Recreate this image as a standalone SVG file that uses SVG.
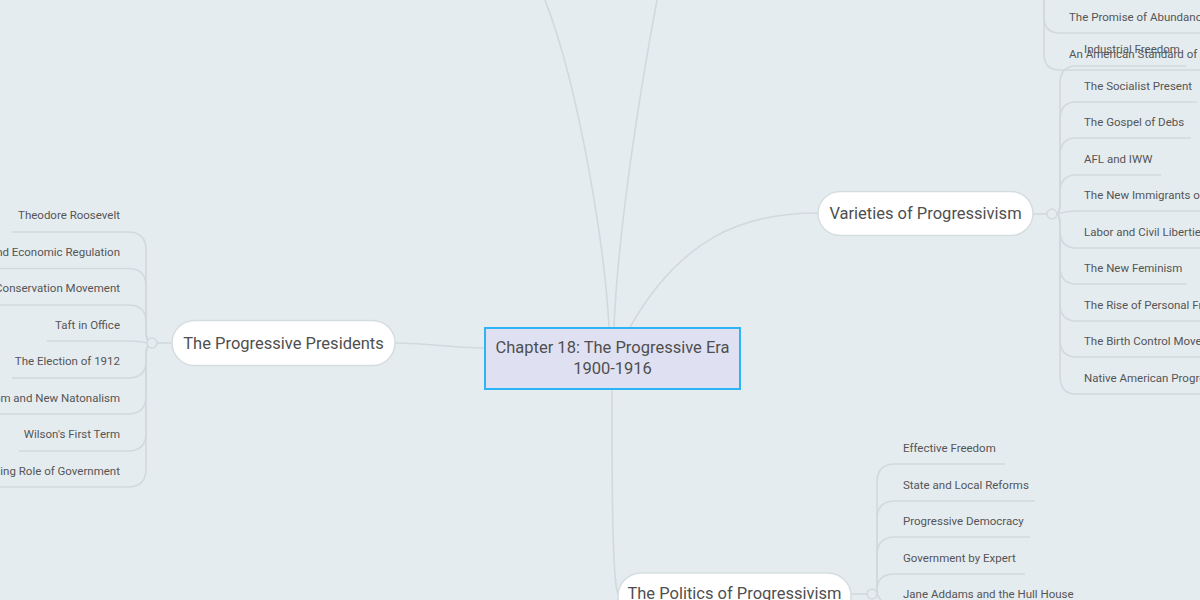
<svg xmlns="http://www.w3.org/2000/svg" width="1200" height="600" viewBox="0 0 1200 600">
<style>
.bg{fill:#e5ecf0}
.ln{fill:none;stroke:#d2d9dd;stroke-width:1.6}
.pill{fill:#ffffff;stroke:#d6dde1;stroke-width:1.5}
.dot{fill:#e5ecf0;stroke:#d2d9dd;stroke-width:1.5}
.t1{font-family:Roboto,"Liberation Sans",sans-serif;font-size:16.5px;fill:#4f4f4f}
.t2{font-family:Roboto,"Liberation Sans",sans-serif;font-size:11.5px;fill:#555555}
.root{fill:#dfe1f3;stroke:#2cb4f6;stroke-width:2}
</style>
<rect class="bg" x="0" y="0" width="1200" height="600"/>
<g id="connectors">
<path class="ln" d="M545,0 C580,90 605,250 609,327"/>
<path class="ln" d="M657,0 C640,90 618,230 614,327"/>
<path class="ln" d="M630,327 C680,240 740,213 818,213"/>
<path class="ln" d="M484,348 C440,348 440,343 395,343"/>
<path class="ln" d="M612,389 C612,480 612,580 618,594"/>
<path class="ln" d="M172,343 H157"/>
<path class="ln" d="M1033,214 H1047"/>
<path class="ln" d="M851,594 H867"/>
<!-- left children -->
<path class="ln" d="M12,232 H128 Q146,232 146,250 V329 Q146,343 152,343"/>
<path class="ln" d="M-5,268.5 H128 Q146,268.5 146,286 V329 Q146,343 152,343"/>
<path class="ln" d="M-5,305 H128 Q146,305 146,322 V332 Q146,343 152,343"/>
<path class="ln" d="M47,341 H128 Q140,341 147,343"/>
<path class="ln" d="M12,378 H128 Q146,378 146,361 V354 Q146,343 152,343"/>
<path class="ln" d="M-5,414 H128 Q146,414 146,396 V357 Q146,343 152,343"/>
<path class="ln" d="M19,451 H128 Q146,451 146,433 V357 Q146,343 152,343"/>
<path class="ln" d="M-5,487 H128 Q146,487 146,469 V357 Q146,343 152,343"/>
<!-- right children (Varieties) -->
<path class="ln" d="M1057,214 Q1060,214 1060,200 V84 Q1060,66 1076,66 H1186"/>
<path class="ln" d="M1057,214 Q1060,214 1060,200 V120 Q1060,102 1076,102 H1197"/>
<path class="ln" d="M1057,214 Q1060,214 1060,200 V156 Q1060,138 1076,138 H1191"/>
<path class="ln" d="M1057,214 Q1060,214 1060,200 V193 Q1060,175 1076,175 H1161"/>
<path class="ln" d="M1057,214 Q1066,211 1076,211 H1205"/>
<path class="ln" d="M1057,214 Q1060,214 1060,228 V230 Q1060,248 1076,248 H1205"/>
<path class="ln" d="M1057,214 Q1060,214 1060,228 V266 Q1060,284 1076,284 H1187"/>
<path class="ln" d="M1057,214 Q1060,214 1060,228 V303 Q1060,321 1076,321 H1205"/>
<path class="ln" d="M1057,214 Q1060,214 1060,228 V339 Q1060,357 1076,357 H1205"/>
<path class="ln" d="M1057,214 Q1060,214 1060,228 V376 Q1060,394 1076,394 H1205"/>
<!-- top right partial branch -->
<path class="ln" d="M1044,-5 V17 Q1044,33 1060,33 H1205"/>
<path class="ln" d="M1044,-5 V54 Q1044,70 1060,70 H1205"/>
<!-- politics children -->
<path class="ln" d="M877,594 Q877,590 877,580 V482 Q877,464 895,464 H1005"/>
<path class="ln" d="M877,594 Q877,590 877,580 V519 Q877,501 895,501 H1035"/>
<path class="ln" d="M877,594 Q877,590 877,580 V555 Q877,537 895,537 H1030"/>
<path class="ln" d="M877,594 Q877,590 877,585 V590 Q877,574 895,574 H1025"/>
<path class="ln" d="M877,594 Q886,610 895,610 H1080"/>
</g>
<g id="dots">
<circle class="dot" cx="152" cy="343" r="5"/>
<circle class="dot" cx="1052" cy="214" r="5"/>
<circle class="dot" cx="872" cy="594" r="5"/>
</g>
<g id="root">
<rect class="root" x="485" y="328" width="255" height="61"/>
<text class="t1" x="612.5" y="353" text-anchor="middle">Chapter 18: The Progressive Era</text>
<text class="t1" x="612.5" y="374" text-anchor="middle">1900-1916</text>
</g>
<g id="n-presidents">
<rect class="pill" x="172" y="320.5" width="223" height="45" rx="22.5"/>
<text class="t1" x="283.5" y="349" text-anchor="middle">The Progressive Presidents</text>
</g>
<g id="n-varieties">
<rect class="pill" x="818" y="191.5" width="215" height="44" rx="22"/>
<text class="t1" x="925.5" y="219" text-anchor="middle">Varieties of Progressivism</text>
</g>
<g id="n-politics">
<rect class="pill" x="618" y="573" width="233" height="46" rx="23"/>
<text class="t1" x="734.5" y="599" text-anchor="middle">The Politics of Progressivism</text>
</g>
<g id="presidents-children" text-anchor="end">
<g id="c-p1"><text class="t2" x="120" y="219">Theodore Roosevelt</text></g>
<g id="c-p2"><text class="t2" x="120" y="255.5">Roosevelt and Economic Regulation</text></g>
<g id="c-p3"><text class="t2" x="120" y="292">The Conservation Movement</text></g>
<g id="c-p4"><text class="t2" x="120" y="328.5">Taft in Office</text></g>
<g id="c-p5"><text class="t2" x="120" y="365">The Election of 1912</text></g>
<g id="c-p6"><text class="t2" x="120" y="401.5">New Freedom and New Natonalism</text></g>
<g id="c-p7"><text class="t2" x="120" y="438">Wilson's First Term</text></g>
<g id="c-p8"><text class="t2" x="120" y="474.5">The Expanding Role of Government</text></g>
</g>
<g id="top-children">
<g id="c-t1"><text class="t2" x="1069" y="21">The Promise of Abundance</text></g>
<g id="c-t2"><text class="t2" x="1069" y="57.5">An American Standard of Living</text></g>
</g>
<g id="varieties-children">
<g id="c-v1"><text class="t2" x="1084" y="53">Industrial Freedom</text></g>
<g id="c-v2"><text class="t2" x="1084" y="89.5">The Socialist Present</text></g>
<g id="c-v3"><text class="t2" x="1084" y="126">The Gospel of Debs</text></g>
<g id="c-v4"><text class="t2" x="1084" y="162.5">AFL and IWW</text></g>
<g id="c-v5"><text class="t2" x="1084" y="199">The New Immigrants on Strike</text></g>
<g id="c-v6"><text class="t2" x="1084" y="235.5">Labor and Civil Liberties</text></g>
<g id="c-v7"><text class="t2" x="1084" y="272">The New Feminism</text></g>
<g id="c-v8"><text class="t2" x="1084" y="308.5">The Rise of Personal Freedom</text></g>
<g id="c-v9"><text class="t2" x="1084" y="345">The Birth Control Movement</text></g>
<g id="c-v10"><text class="t2" x="1084" y="381.5">Native American Progressivism</text></g>
</g>
<g id="politics-children">
<g id="c-o1"><text class="t2" x="903" y="452">Effective Freedom</text></g>
<g id="c-o2"><text class="t2" x="903" y="488.5">State and Local Reforms</text></g>
<g id="c-o3"><text class="t2" x="903" y="525">Progressive Democracy</text></g>
<g id="c-o4"><text class="t2" x="903" y="561.5">Government by Expert</text></g>
<g id="c-o5"><text class="t2" x="903" y="598">Jane Addams and the Hull House</text></g>
</g>
</svg>
